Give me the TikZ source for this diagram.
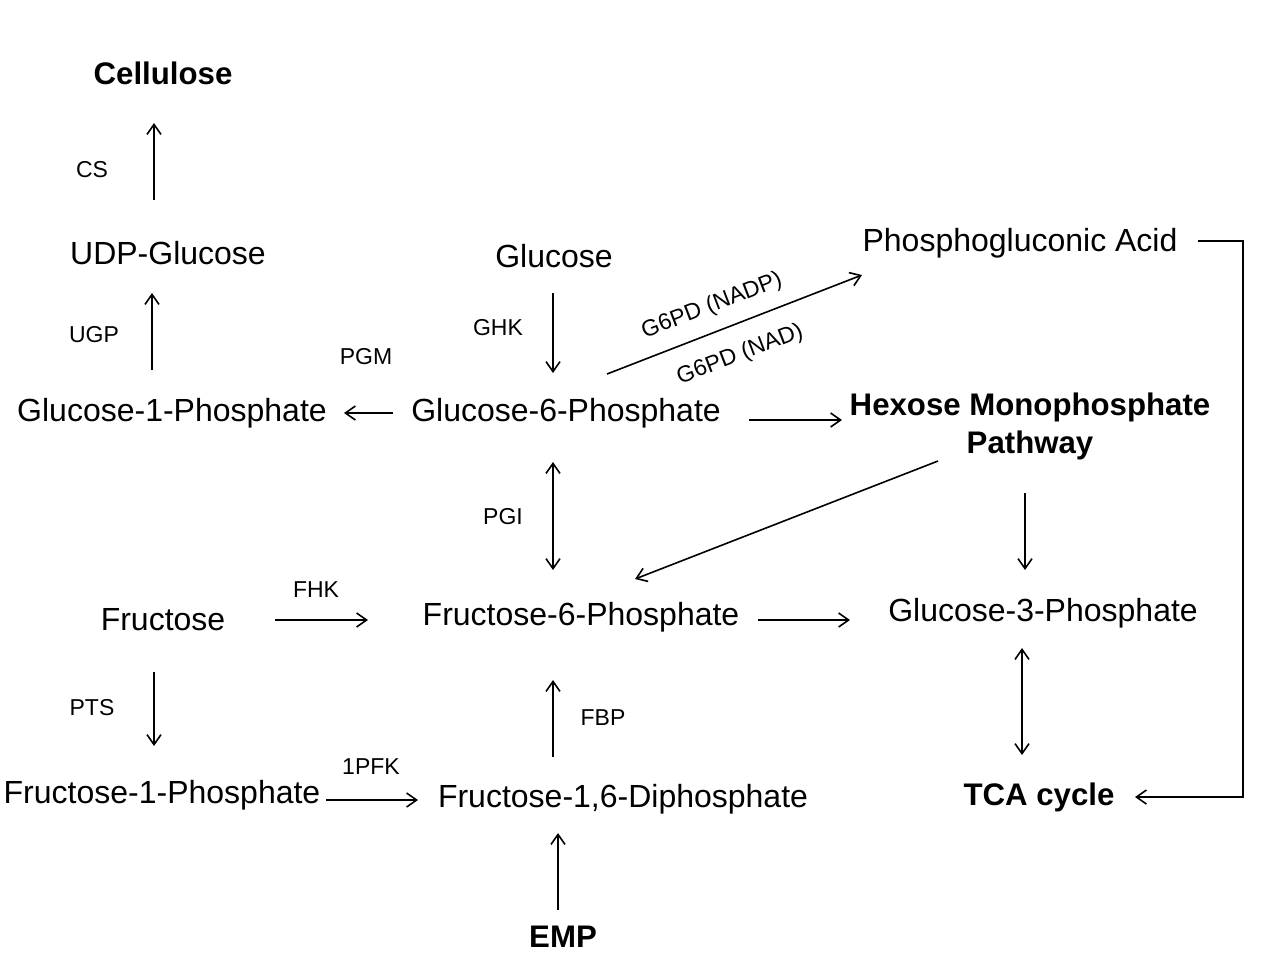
\documentclass[tikz,border=0pt]{standalone}
\usepackage{fontspec}
\setmainfont{Liberation Sans}
\usetikzlibrary{arrows.meta}
\begin{document}
\begin{tikzpicture}[x=0.5pt,y=-0.5pt,
  met/.style={font=\fontsize{16}{18}\selectfont, inner sep=0pt},
  bmet/.style={font=\fontsize{15.6}{19}\selectfont\bfseries, inner sep=0pt, align=center},
  enz/.style={font=\fontsize{11.5}{13}\selectfont, inner sep=0pt},
  arr/.style={-{Straight Barb[length=5pt,width=7pt]}, line width=0.8pt},
  darr/.style={{Straight Barb[length=5pt,width=7pt]}-{Straight Barb[length=5pt,width=7pt]}, line width=0.8pt}]
\useasboundingbox (0,0) rectangle (1272,955);
\node[bmet] (cel) at (163,73) {Cellulose};
\node[enz] (cs) at (92,170) {CS};
\node[met] (udp) at (168,253) {UDP-Glucose};
\node[enz] (ugp) at (94,335) {UGP};
\node[met] (g1p) at (172,413) {Glucose-1-Phosphate};
\node[enz] (pgm) at (366,357) {PGM};
\node[met] (glc) at (554,256) {Glucose};
\node[enz] (ghk) at (498,328) {GHK};
\node[met] (g6p) at (566,413) {Glucose-6-Phosphate};
\node[met] (pga) at (1020,243) {Phosphogluconic Acid};
\node[enz,rotate=21] (nadp) at (712,306) {G6PD (NADP)};
\node[enz,rotate=21] (nad) at (740,355) {G6PD (NAD)};
\node[bmet] (hmp) at (1030,426) {Hexose Monophosphate\\Pathway};
\node[enz] (pgi) at (503,517) {PGI};
\node[met] (fru) at (163,620) {Fructose};
\node[enz] (fhk) at (316,590) {FHK};
\node[met] (f6p) at (581,617) {Fructose-6-Phosphate};
\node[met] (g3p) at (1043,613) {Glucose-3-Phosphate};
\node[enz] (pts) at (92,708) {PTS};
\node[enz] (fbp) at (603,718) {FBP};
\node[met] (f1p) at (162,795) {Fructose-1-Phosphate};
\node[enz] (pfk) at (371,767) {1PFK};
\node[met] (fdp) at (623,799) {Fructose-1,6-Diphosphate};
\node[bmet] (tca) at (1039,797) {TCA cycle};
\node[bmet] (emp) at (563,937) {EMP};
% endpoints
\coordinate (a1) at (154,200); \coordinate (a2) at (154,123);
\coordinate (b1) at (152,370); \coordinate (b2) at (152,293);
\coordinate (c1) at (393,413); \coordinate (c2) at (344,413);
\coordinate (d1) at (553,293); \coordinate (d2) at (553,373);
\coordinate (e1) at (607,374); \coordinate (e2) at (862,275);
\coordinate (f1) at (749,420); \coordinate (f2) at (842,420);
\coordinate (g1) at (553,462); \coordinate (g2) at (553,570);
\coordinate (h1) at (938,461); \coordinate (h2) at (635,579);
\coordinate (i1) at (1025,493); \coordinate (i2) at (1025,570);
\coordinate (j1) at (275,620); \coordinate (j2) at (368,620);
\coordinate (k1) at (758,620); \coordinate (k2) at (850,620);
\coordinate (l1) at (154,672); \coordinate (l2) at (154,746);
\coordinate (m1) at (553,757); \coordinate (m2) at (553,680);
\coordinate (n1) at (326,800); \coordinate (n2) at (418,800);
\coordinate (o1) at (558,910); \coordinate (o2) at (558,833);
\coordinate (p1) at (1022,648); \coordinate (p2) at (1022,755);
\coordinate (q1) at (1198,241); \coordinate (q2) at (1243,241);
\coordinate (q3) at (1243,797); \coordinate (q4) at (1135,797);
\draw[arr] (a1) -- (a2);
\draw[arr] (b1) -- (b2);
\draw[arr] (c1) -- (c2);
\draw[arr] (d1) -- (d2);
\draw[arr] (e1) -- (e2);
\draw[arr] (f1) -- (f2);
\draw[darr] (g1) -- (g2);
\draw[arr] (h1) -- (h2);
\draw[arr] (i1) -- (i2);
\draw[arr] (j1) -- (j2);
\draw[arr] (k1) -- (k2);
\draw[arr] (l1) -- (l2);
\draw[arr] (m1) -- (m2);
\draw[arr] (n1) -- (n2);
\draw[arr] (o1) -- (o2);
\draw[darr] (p1) -- (p2);
\draw[arr] (q1) -- (q2) -- (q3) -- (q4);
\end{tikzpicture}
\end{document}
